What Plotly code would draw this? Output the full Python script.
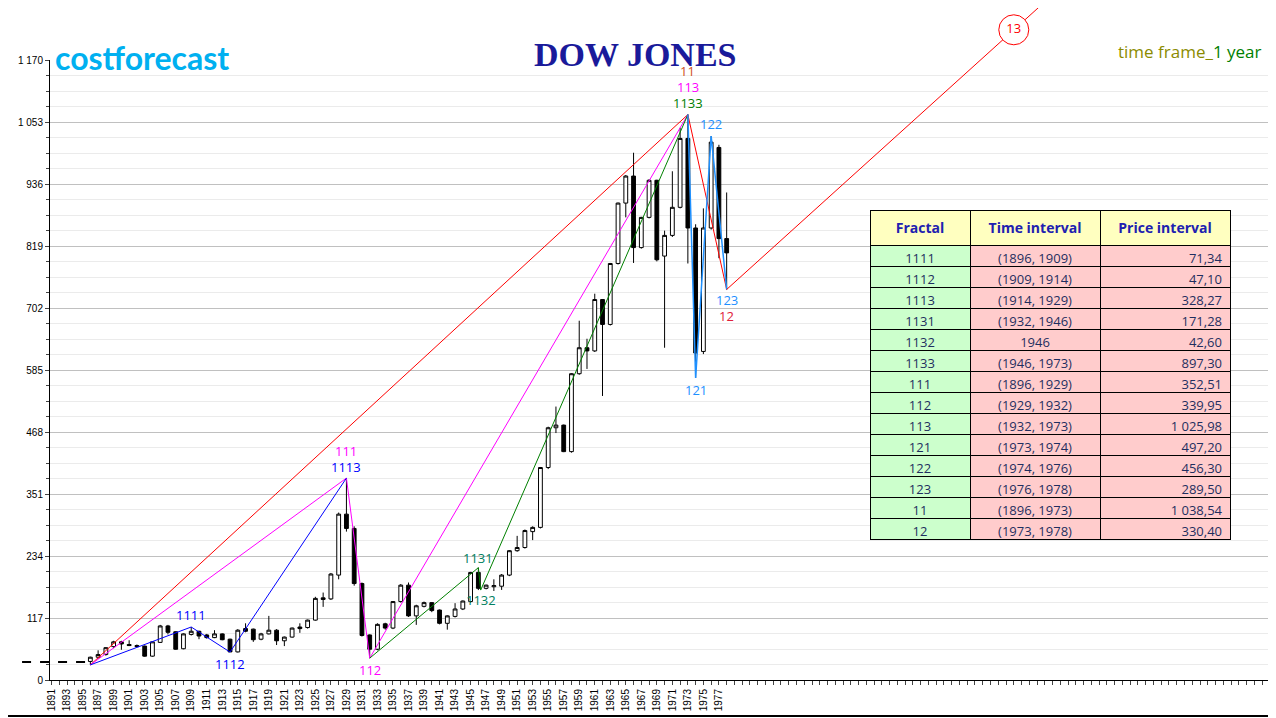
import plotly.graph_objects as go

# yearly candles
years = list(range(1896, 1979))
opens = [35, 43, 48, 63, 72, 67, 65, 64, 45, 71, 102, 91, 59, 86, 92, 85, 80, 87, 77, 53,
         97, 96, 77, 87, 94, 74, 81, 100, 99, 113, 155, 153, 198, 313, 286, 182, 85, 58, 106, 98,
         148, 179, 121, 139, 146, 132, 107, 120, 134, 148, 203, 173, 176, 177, 198, 244, 250, 280, 288,
         401, 476, 481, 431, 578, 627, 621, 718, 671, 786, 900, 951, 816, 873, 943, 800, 839, 892,
         1022, 853, 620, 853, 1005, 833]
closes = [43, 48, 61, 72, 68, 65, 63, 45, 72, 102, 90, 58, 87, 92, 83, 80, 87, 76, 53, 94,
          92, 76, 87, 94, 74, 81, 98, 97, 113, 154, 152, 200, 313, 286, 182, 84, 58, 105, 98, 148,
          179, 121, 140, 146, 131, 107, 121, 134, 149, 203, 173, 179, 178, 198, 244, 250, 282, 288, 401,
          476, 481, 431, 578, 627, 621, 718, 671, 786, 900, 951, 816, 873, 943, 793, 839, 892, 1022,
          853, 617, 853, 1015, 833, 806]
highs = [44, 56, 62, 74, 74, 75, 67, 65, 73, 104, 104, 92, 88, 100, 93, 87, 94, 88, 78, 96,
         107, 97, 89, 121, 96, 82, 99, 107, 114, 157, 165, 202, 316, 381, 290, 184, 86, 107, 108, 149,
         181, 184, 142, 148, 147, 133, 122, 145, 150, 204, 212, 180, 190, 200, 245, 272, 284, 290, 402,
         478, 516, 482, 579, 678, 644, 729, 719, 787, 901, 953, 995, 874, 945, 944, 848, 960, 1042,
         1067, 860, 890, 1026.5, 1010, 920]
lows = [28.5, 40, 46, 60, 57, 64, 62, 44, 44, 70, 86, 57, 58, 84, 77, 78, 79, 75, 52.7, 52,
        90, 72, 75, 86, 66, 64, 80, 89, 97, 112, 138, 151, 190, 280, 178, 82, 41.2, 56, 95, 96,
        146, 119, 104, 137, 128, 105, 95, 118, 132, 146, 169.7, 171, 168, 170, 196, 242, 248, 264, 286,
        398, 466, 430, 429, 576, 587, 619, 536, 669, 784, 873, 787, 814, 871, 790, 627, 836, 890,
        786, 570, 615, 850, 796, 737]

# fractal paths (year, price)
red_x, red_y = [1896, 1973, 1978], [28.5, 1067, 737]
ext_x, ext_y = [1978, 2015, 2020], [737, 1227, 1293]
mag_x, mag_y = [1896, 1929, 1932, 1973], [28.5, 381, 41.2, 1067]
blue_x, blue_y = [1896, 1909, 1914, 1929], [28.5, 100, 52.7, 381]
green_x, green_y = [1932, 1946, 1946.3, 1973], [41.2, 212, 169.7, 1067]
lb_x, lb_y = [1973, 1974, 1976, 1978], [1067, 570, 1026.5, 737]
dash_x, dash_y = [1887.2, 1896], [34, 34]

# table
t_fractal = ["1111", "1112", "1113", "1131", "1132", "1133", "111", "112", "113",
             "121", "122", "123", "11", "12"]
t_time = ["(1896, 1909)", "(1909, 1914)", "(1914, 1929)", "(1932, 1946)", "1946",
          "(1946, 1973)", "(1896, 1929)", "(1929, 1932)", "(1932, 1973)", "(1973, 1974)",
          "(1974, 1976)", "(1976, 1978)", "(1896, 1973)", "(1973, 1978)"]
t_price = ["71,34", "47,10", "328,27", "171,28", "42,60", "897,30", "352,51", "339,95",
           "1 025,98", "497,20", "456,30", "289,50", "1 038,54", "330,40"]

y_ticks = [0, 117, 234, 351, 468, 585, 702, 819, 936, 1053, 1170]
y_text = ["0", "117", "234", "351", "468", "585", "702", "819", "936", "1 053", "1 170"]
label_years = list(range(1891, 1978, 2))

S = 8
W, H, B = 1276 - S, 718 - S, 38
PH = H - B
L_PX, R_PX, TOP_PX = 50 - S, 1270 - S, 60 - S
PXY = 7.76
X0 = 1890.8
X1 = X0 + (R_PX - L_PX) / PXY
Y2TOP = 1170 * PH / (PH - TOP_PX)

def px(x):
    return (x - S) / W

def py(y):
    return 1 - (y - S) / PH

fig = go.Figure()
fig.add_trace(go.Candlestick(
    x=years, open=opens, high=highs, low=lows, close=closes,
    increasing=dict(line=dict(color="black", width=1), fillcolor="white"),
    decreasing=dict(line=dict(color="black", width=1), fillcolor="black"),
    whiskerwidth=0, showlegend=False, hoverinfo="skip"))

def line(x, y, color, axes=("x", "y"), dash=None, width=1):
    fig.add_trace(go.Scatter(x=x, y=y, mode="lines", xaxis=axes[0], yaxis=axes[1],
                             line=dict(color=color, width=width, dash=dash),
                             showlegend=False, hoverinfo="skip"))

line(red_x, red_y, "#FF0000")
line(mag_x, mag_y, "#FF00FF")
line(blue_x, blue_y, "#0000FF")
line(green_x, green_y, "#008000")
line(lb_x, lb_y, "#1E90FF", width=1.5)
line(ext_x, ext_y, "#FF0000", axes=("x2", "y2"))
line(dash_x, dash_y, "black", axes=("x2", "y2"), dash="dash", width=2)
fig.add_trace(go.Scatter(x=[ext_x[1]], y=[ext_y[1]], xaxis="x2", yaxis="y2", mode="markers+text",
                         marker=dict(size=30, color="white", line=dict(color="#FF0000", width=1)),
                         text=["13"], textposition="middle center",
                         textfont=dict(color="#FF0000", size=13, family="Open Sans"),
                         showlegend=False, hoverinfo="skip"))

fig.add_trace(go.Table(
    domain=dict(x=[px(870), px(1230)], y=[py(545), py(210)]),
    columnwidth=[100, 130, 130],
    header=dict(values=["<b>Fractal</b>", "<b>Time interval</b>", "<b>Price interval</b>"],
                fill_color="#FFFFC0", line_color="black", height=23,
                font=dict(color="#2020B0", size=14, family="Open Sans"), align="center"),
    cells=dict(values=[t_fractal, t_time, t_price],
               fill_color=["#CCFFCC", "#FFCCCC", "#FFCCCC"], line_color="black", height=21,
               font=dict(color="#1F2F60", size=13, family="Open Sans"),
               align=["center", "center", "right"])))

labels = [
    (1973, 1067, "11", "#D05020", 44), (1973, 1067, "113", "#FF00FF", 28),
    (1973, 1067, "1133", "#008000", 12), (1976, 1026.5, "122", "#1E90FF", 12),
    (1974, 570, "121", "#1E90FF", -12), (1978, 737, "123", "#1E90FF", -11),
    (1978, 737, "12", "#E0203A", -27), (1929, 381, "111", "#FF00FF", 27),
    (1929, 381, "1113", "#0000FF", 11), (1932, 41.2, "112", "#FF00FF", -12),
    (1909, 100, "1111", "#0000FF", 12), (1914, 52.7, "1112", "#0000FF", -12),
    (1946, 212, "1131", "#008060", 10), (1946.3, 169.7, "1132", "#008060", -10),
]
for lx, ly, txt, col, sh in labels:
    fig.add_annotation(x=lx, y=ly, text=txt, showarrow=False, yshift=sh,
                       font=dict(color=col, size=13, family="Open Sans"))

fig.add_annotation(xref="paper", yref="paper", x=px(53), y=py(36), xanchor="left",
                   text="<b>costforecast</b>", showarrow=False,
                   font=dict(color="#00B0F0", size=32, family="Lato"))
fig.add_annotation(xref="paper", yref="paper", x=px(635), y=py(34),
                   text="<b>DOW JONES</b>", showarrow=False,
                   font=dict(color="#1A1A9A", size=34, family="Liberation Serif"))
fig.add_annotation(xref="paper", yref="paper", x=px(1264), y=py(38), xanchor="right",
                   text="<span style='color:#8B8B00'>time frame_</span><span style='color:#008000'>1 year</span>",
                   showarrow=False, font=dict(size=17, family="Open Sans"))

fig.add_shape(type="line", xref="x domain", yref="y domain", x0=1, x1=1, y0=0, y1=1,
              line=dict(color="#BBBBBB", width=1))
fig.add_shape(type="line", xref="paper", yref="paper", x0=0, x1=1, y0=py(716), y1=py(716),
              line=dict(color="black", width=2))

fig.update_layout(
    width=W, height=H, margin=dict(l=0, r=0, t=0, b=B, autoexpand=False),
    paper_bgcolor="white", plot_bgcolor="rgba(0,0,0,0)",
    xaxis=dict(domain=[L_PX / W, R_PX / W], range=[X0, X1], rangeslider=dict(visible=False),
               tickvals=label_years, ticktext=[str(v) for v in label_years], tickangle=-90,
               ticks="outside", ticklen=4, tickfont=dict(size=10, family="Liberation Sans", color="black"),
               minor=dict(dtick=1, tick0=1891, ticks="outside", ticklen=4, showgrid=False),
               showgrid=False, showline=True, linecolor="black", zeroline=False, anchor="y"),
    yaxis=dict(domain=[0, 1 - TOP_PX / PH], range=[0, 1170], tickvals=y_ticks, ticktext=y_text,
               ticks="outside", ticklen=4, tickfont=dict(size=10, family="Liberation Sans", color="black"),
               showgrid=True, gridcolor="#C0C0C0",
               minor=dict(dtick=29.25, tick0=0, ticks="outside", ticklen=3, showgrid=True, gridcolor="#EBEBEB"),
               showline=True, linecolor="black", zeroline=False, anchor="x"),
    xaxis2=dict(domain=[0, 1], range=[X0 - L_PX / PXY, X0 + (W - L_PX) / PXY], visible=False,
                anchor="y2"),
    yaxis2=dict(domain=[0, 1], range=[0, Y2TOP], visible=False, anchor="x2"),
)

fig.write_html("out.html")
